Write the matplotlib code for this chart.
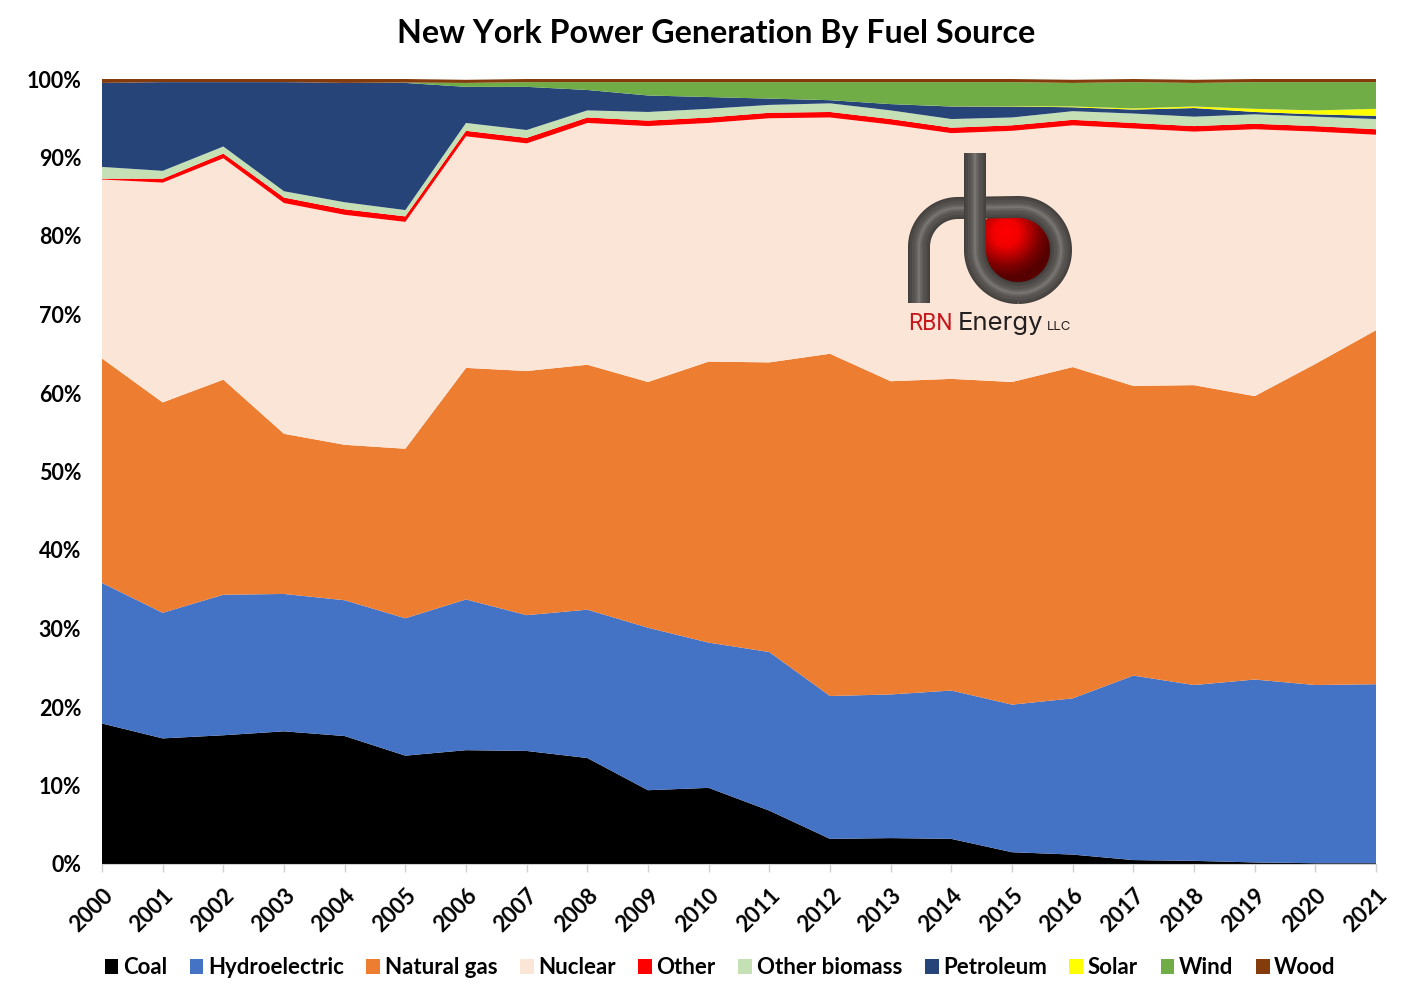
import numpy as np
import matplotlib
matplotlib.use("Agg")
import matplotlib.pyplot as plt
from matplotlib.lines import Line2D
from matplotlib.patches import Rectangle, PathPatch
from matplotlib.path import Path

plt.rcParams['font.family'] = ['Lato', 'DejaVu Sans']

years = list(range(2000, 2022))
coal = [17.9,16.0,16.4,16.9,16.3,13.8,14.5,14.4,13.5,9.4,9.7,6.8,3.2,3.3,3.2,1.5,1.2,0.5,0.4,0.2,0.1,0.1]
hydro = [17.9,16.0,17.9,17.5,17.3,17.5,19.2,17.3,18.9,20.7,18.5,20.2,18.2,18.3,18.9,18.8,19.9,23.5,22.4,23.3,22.7,22.8]
natural_gas = [28.6,26.8,27.4,20.4,19.8,21.6,29.5,31.1,31.2,31.3,35.8,36.9,43.6,39.9,39.7,41.1,42.2,36.9,38.2,36.1,40.9,45.1]
nuclear = [22.8,28.0,28.2,29.4,29.3,28.9,29.5,29.0,30.8,32.6,30.4,31.1,30.1,32.7,31.3,32.0,30.8,32.8,32.3,34.0,29.6,24.9]
other = [0.1,0.5,0.6,0.7,0.7,0.7,0.7,0.7,0.7,0.7,0.7,0.7,0.7,0.7,0.7,0.7,0.7,0.7,0.7,0.7,0.7,0.7]
other_biomass = [1.5,1.0,0.9,0.8,0.9,0.8,1.0,1.0,0.9,1.1,1.1,1.0,1.1,1.1,1.1,1.0,1.1,1.2,1.2,1.2,1.2,1.3]
petroleum = [10.7,11.3,8.2,13.9,15.2,16.2,4.6,5.5,2.6,2.1,1.5,0.8,0.4,0.8,1.6,1.4,0.5,0.5,1.1,0.3,0.3,0.4]
solar = [0,0,0,0,0,0,0,0,0,0,0,0,0,0,0.02,0.05,0.1,0.15,0.2,0.4,0.5,0.9]
wind = [0,0,0,0,0,0.05,0.5,0.6,1.0,1.7,1.9,2.1,2.3,2.8,3.08,3.05,3.0,3.35,3.0,3.4,3.6,3.4]
wood = [0.5,0.4,0.4,0.4,0.5,0.45,0.4,0.4,0.4,0.4,0.4,0.4,0.4,0.4,0.4,0.4,0.4,0.4,0.4,0.4,0.4,0.4]

labels = ['Coal', 'Hydroelectric', 'Natural gas', 'Nuclear', 'Other',
          'Other biomass', 'Petroleum', 'Solar', 'Wind', 'Wood']
colors = ['#000000', '#4472C4', '#ED7D31', '#FBE5D6', '#FF0000',
          '#C5E0B4', '#264478', '#FFFF00', '#70AD47', '#843C0C']

W, H = 1416, 1000
fig = plt.figure(figsize=(W / 100, H / 100), dpi=100, facecolor='white')
ax = fig.add_axes([102 / W, 1 - 864 / H, 1274 / W, 785 / H])

series = [coal, hydro, natural_gas, nuclear, other, other_biomass,
          petroleum, solar, wind, wood]
ax.stackplot(years, series, colors=colors, labels=labels, linewidth=0)

ax.set_xlim(2000, 2021)
ax.set_ylim(0, 100)
ax.set_xticks(years)
ax.set_xticklabels(years, rotation=45, ha='right', rotation_mode='anchor',
                   fontsize=16, fontweight='bold', color='black')
ax.set_yticks(np.arange(0, 101, 10))
ax.set_yticklabels([f'{v}%' for v in range(0, 101, 10)], fontsize=15.5,
                   fontweight='bold', color='black')
ax.tick_params(axis='y', length=0, pad=15)
ax.tick_params(axis='x', length=6, width=1, color='#d0d0d0', pad=9)
for side in ('top', 'right', 'left'):
    ax.spines[side].set_visible(False)
ax.spines['bottom'].set_color('#d0d0d0')

fig.text(716 / W, 1 - 33 / H, 'New York Power Generation By Fuel Source',
         ha='center', va='center', fontsize=23.25, fontweight='bold', color='black')

# Legend swatches and names along the bottom, one row
handles = [Rectangle((0, 0), 1, 1, facecolor=c, edgecolor='none') for c in colors]
fig.legend(handles, labels, loc='center', bbox_to_anchor=(720 / W, 1 - 968 / H),
           ncol=10, frameon=False, handlelength=0.62, handleheight=0.62,
           handletextpad=0.2, columnspacing=1.02,
           prop={'size': 16, 'weight': 'bold'})

# Company logo, laid out in pixel coordinates over the plot
logo = fig.add_axes([0, 0, 1, 1], facecolor='none')
logo.set_xlim(0, W)
logo.set_ylim(H, 0)
logo.axis('off')

ball_cx, ball_cy = 1018, 250
yy, xx = np.mgrid[215:290:300j, 980:1060:300j]
dist = np.hypot(xx - 1006, yy - 233) / 44
glow = np.clip(dist, 0, 1)
ball = np.zeros(glow.shape + (3,))
ball[..., 0] = np.interp(glow, [0, 0.3, 0.75, 1], [1.0, 0.95, 0.5, 0.34])
im = logo.imshow(ball, extent=(980, 1060, 290, 215), zorder=5, aspect='auto')
logo.set_xlim(0, W)
logo.set_ylim(H, 0)
clip = PathPatch(Path.circle((ball_cx, ball_cy), 44), transform=logo.transData,
                 facecolor='none', edgecolor='none')
logo.add_patch(clip)
im.set_clip_path(clip)


def arc(cx, cy, r, a0, a1, n=60):
    t = np.radians(np.linspace(a0, a1, n))
    return cx + r * np.cos(t), cy + r * np.sin(t)


def pipe(x, y, z):
    # Concentric strokes give the tube a lighter core and darker edges
    px = 72 / fig.dpi
    for width, shade in zip((22, 19, 14, 8, 5, 2),
                            ('#433f3d', '#4c4846', '#565250', '#605c59', '#6b6764', '#787470')):
        logo.add_line(Line2D(x, y, color=shade, lw=width * px, zorder=z,
                             solid_capstyle='butt', solid_joinstyle='round'))


r_loop = 43
lx, ly = arc(958, 247, 39, 180, 270)
tx, ty = arc(ball_cx, ball_cy, r_loop, -90, 90)
pipe(np.r_[919, lx, tx], np.r_[303, ly, ty], 6)
bx, by = arc(ball_cx, ball_cy, r_loop, 90, 180)
pipe(np.r_[bx, 975], np.r_[by, 153], 7)

logo.text(908, 330, 'RBN', color='#C8161D', fontsize=16.5, family='Roboto',
          va='baseline', ha='left', zorder=8)
logo.text(958, 330, 'Energy', color='#231F20', fontsize=18.5, family='Inter',
          va='baseline', ha='left', zorder=8)
logo.text(1047, 330, 'LLC', color='#231F20', fontsize=9.5, family='Inter',
          va='baseline', ha='left', zorder=8)

fig.savefig('out.png', dpi=100, facecolor='white')
